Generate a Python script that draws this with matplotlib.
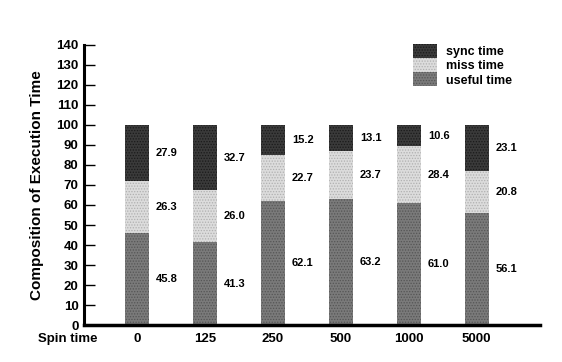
import matplotlib
matplotlib.use("Agg")
import matplotlib.pyplot as plt
from matplotlib.patches import Patch
import numpy as np

spin_times = ["0", "125", "250", "500", "1000", "5000"]
useful_time = [45.8, 41.3, 62.1, 63.2, 61.0, 56.1]
miss_time = [26.3, 26.0, 22.7, 23.7, 28.4, 20.8]
sync_time = [27.9, 32.7, 15.2, 13.1, 10.6, 23.1]

plt.rcParams['font.family'] = ['Liberation Sans', 'DejaVu Sans']
plt.rcParams['font.weight'] = 'bold'
plt.rcParams['hatch.linewidth'] = 0.6

c_useful = "#7a7a7a"
c_miss = "#dcdcdc"
c_sync = "#3a3a3a"

fig = plt.figure(figsize=(5.62, 3.62), dpi=100)
ax = fig.add_axes([0.1495, 0.102, 0.8113, 0.774])

x = np.arange(len(spin_times))
w = 0.36
useful = np.array(useful_time)
miss = np.array(miss_time)
sync = np.array(sync_time)

ax.bar(x, useful, w, color=c_useful, hatch="......", edgecolor="#555555", linewidth=0)
ax.bar(x, miss, w, bottom=useful, color=c_miss, hatch="......", edgecolor="#b0b0b0", linewidth=0)
ax.bar(x, sync, w, bottom=useful + miss, color=c_sync, hatch="......", edgecolor="#1a1a1a", linewidth=0)

# value labels right of each segment
for i in range(len(x)):
    xl = x[i] + w / 2 + 0.1
    ax.text(xl, useful[i] / 2, f"{useful[i]:.1f}", fontsize=8, fontweight='bold', va='center', ha='left')
    ax.text(xl, useful[i] + miss[i] / 2, f"{miss[i]:.1f}", fontsize=8, fontweight='bold', va='center', ha='left')
    ax.text(xl, useful[i] + miss[i] + sync[i] / 2, f"{sync[i]:.1f}", fontsize=8, fontweight='bold', va='center', ha='left')

ax.set_xlim(-0.78, 5.93)
ax.set_ylim(0, 140)
ax.set_yticks(np.arange(0, 141, 10))
ax.set_xticks(x)
ax.set_xticklabels(spin_times)

for s in ["top", "right"]:
    ax.spines[s].set_visible(False)
ax.spines["left"].set_linewidth(2.2)
ax.spines["bottom"].set_linewidth(2.5)

ax.tick_params(axis='y', direction='in', length=8, width=1, pad=4, labelsize=9.5)
ax.tick_params(axis='x', length=0, pad=6, labelsize=9.5)

ax.set_ylabel("Composition of Execution Time", fontsize=11, fontweight='bold', labelpad=9)
fig.text(68 / 562, 1 - 339 / 362, "Spin time", fontsize=9.5, fontweight='bold', ha='center', va='center')

handles = [Patch(facecolor=c_sync, hatch="......", edgecolor="#1a1a1a", linewidth=0),
           Patch(facecolor=c_miss, hatch="......", edgecolor="#b0b0b0", linewidth=0),
           Patch(facecolor=c_useful, hatch="......", edgecolor="#555555", linewidth=0)]
ax.legend(handles, ["sync time", "miss time", "useful time"], loc='upper left',
          bbox_to_anchor=(413 / 562, 1 - 44 / 362), bbox_transform=fig.transFigure,
          frameon=False, fontsize=9, handlelength=1.9, handleheight=1.35,
          labelspacing=0.0, handletextpad=0.7, borderpad=0, borderaxespad=0)

fig.savefig("out.png", dpi=100)
